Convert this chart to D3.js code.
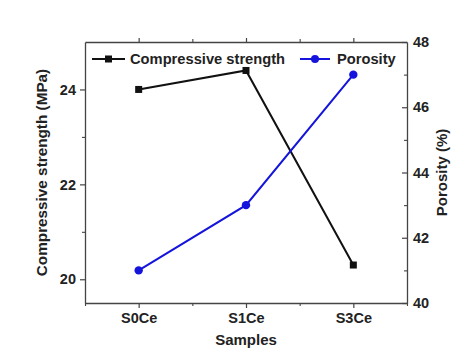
<!DOCTYPE html>
<html>
<head>
<meta charset="utf-8">
<script src="https://cdn.jsdelivr.net/npm/d3@7"></script>
<style>
body{margin:0;background:#fff;}
text{font-family:"Liberation Sans",Arial,sans-serif;font-weight:bold;fill:#222;}
</style>
</head>
<body>
<svg id="c" width="474" height="363"></svg>
<script>
const categories = ["S0Ce","S1Ce","S3Ce"];
const strength = [24.0, 24.4, 20.3];
const porosity = [41.0, 43.0, 47.0];
const leftTicks = [20, 22, 24];
const rightTicks = [40, 42, 44, 46, 48];

const svg = d3.select("#c");
const L = 85, R = 407, T = 42, B = 303;
const x = d3.scaleLinear().domain([-0.5, 2.5]).range([L, R]);
const yL = d3.scaleLinear().domain([19.5, 25]).range([B, T]);
const yR = d3.scaleLinear().domain([40, 48]).range([B, T]);
const axisColor = "#444";

function styleAxis(g){
  g.select(".domain").attr("stroke", axisColor).attr("stroke-width", 1.3);
  g.selectAll(".tick line").attr("stroke", axisColor).attr("stroke-width", 1.2);
  g.selectAll(".tick text").style("font-size","14.5px").attr("fill","#222");
}
function minor(g){ g.select(".domain").remove(); g.selectAll("line").attr("stroke",axisColor).attr("stroke-width",1.1); }

// bottom axis
const gB = svg.append("g").attr("transform",`translate(0,${B})`)
  .call(d3.axisBottom(x).tickValues([0,1,2]).tickFormat(i=>categories[i]).tickSizeInner(5).tickSizeOuter(0).tickPadding(5));
styleAxis(gB);
svg.append("g").attr("transform",`translate(0,${B})`)
  .call(d3.axisBottom(x).tickValues([-0.5,0.5,1.5,2.5]).tickFormat("").tickSizeInner(3).tickSizeOuter(0)).call(minor);

// top axis
const gT = svg.append("g").attr("transform",`translate(0,${T})`)
  .call(d3.axisTop(x).tickValues([0,1,2]).tickFormat("").tickSizeInner(4).tickSizeOuter(0));
styleAxis(gT);
svg.append("g").attr("transform",`translate(0,${T})`)
  .call(d3.axisTop(x).tickValues([0.5,1.5]).tickFormat("").tickSizeInner(3).tickSizeOuter(0)).call(minor);

// left axis
const gL = svg.append("g").attr("transform",`translate(${L},0)`)
  .call(d3.axisLeft(yL).tickValues(leftTicks).tickFormat(d3.format("d")).tickSizeInner(5).tickSizeOuter(0).tickPadding(4));
styleAxis(gL);
svg.append("g").attr("transform",`translate(${L},0)`)
  .call(d3.axisLeft(yL).tickValues([21,23]).tickFormat("").tickSizeInner(3).tickSizeOuter(0)).call(minor);

// right axis (ticks inward)
const gR = svg.append("g").attr("transform",`translate(${R},0)`)
  .call(d3.axisRight(yR).tickValues(rightTicks).tickFormat(d3.format("d")).tickSizeInner(-5).tickSizeOuter(0).tickPadding(6));
styleAxis(gR);
svg.append("g").attr("transform",`translate(${R},0)`)
  .call(d3.axisRight(yR).tickValues([41,43,45,47]).tickFormat("").tickSizeInner(-3).tickSizeOuter(0)).call(minor);

// axis titles
svg.append("text").attr("transform",`translate(47,${(T+B)/2}) rotate(-90)`)
  .attr("text-anchor","middle").style("font-size","15.3px").text("Compressive strength (MPa)");
svg.append("text").attr("transform",`translate(447,${(T+B)/2}) rotate(-90)`)
  .attr("text-anchor","middle").style("font-size","15px").text("Porosity (%)");
svg.append("text").attr("x",(L+R)/2).attr("y",345)
  .attr("text-anchor","middle").style("font-size","15px").text("Samples");

// series
const black = "#111", blue = "#1414dc";
const idx = d3.range(categories.length);
svg.append("path").datum(idx)
  .attr("d", d3.line().x(i=>x(i)).y(i=>yL(strength[i])))
  .attr("fill","none").attr("stroke",black).attr("stroke-width",2);
svg.selectAll(".sq").data(idx).enter().append("rect")
  .attr("x",i=>x(i)-3.5).attr("y",i=>yL(strength[i])-3.5).attr("width",7).attr("height",7).attr("fill",black);
svg.append("path").datum(idx)
  .attr("d", d3.line().x(i=>x(i)).y(i=>yR(porosity[i])))
  .attr("fill","none").attr("stroke",blue).attr("stroke-width",2);
svg.selectAll(".ci").data(idx).enter().append("circle")
  .attr("cx",i=>x(i)).attr("cy",i=>yR(porosity[i])).attr("r",4.2).attr("fill",blue);

// legend
const lg = svg.append("g");
lg.append("line").attr("x1",92).attr("x2",125).attr("y1",59).attr("y2",59).attr("stroke",black).attr("stroke-width",2);
lg.append("rect").attr("x",105).attr("y",55.5).attr("width",7).attr("height",7).attr("fill",black);
lg.append("text").attr("x",130).attr("y",64).style("font-size","14.7px").text("Compressive strength");
lg.append("line").attr("x1",300).attr("x2",330).attr("y1",59).attr("y2",59).attr("stroke",blue).attr("stroke-width",2);
lg.append("circle").attr("cx",315).attr("cy",59).attr("r",4).attr("fill",blue);
lg.append("text").attr("x",337).attr("y",64).style("font-size","14.7px").text("Porosity");
</script>
</body>
</html>
